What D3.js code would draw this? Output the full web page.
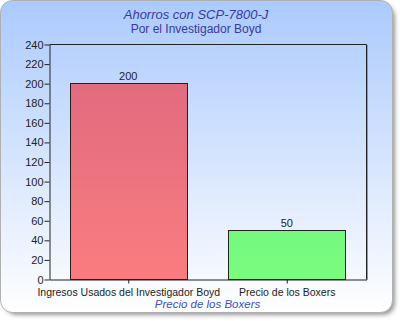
<!DOCTYPE html>
<html lang="es">
<head>
<meta charset="UTF-8">
<script src="https://cdn.jsdelivr.net/npm/d3@7"></script>
<style>
    body { margin: 0; background: white; }
    svg { display: block; font-family: "Liberation Sans", Arial, sans-serif; }
</style>
</head>
<body>
<script>
    // ---- data ----
    const categories = ["Ingresos Usados del Investigador Boyd", "Precio de los Boxers"];
    const values = [200, 50];
    const barColors = ["rgba(255,0,0,0.5)", "rgba(0,255,0,0.5)"];
    const yTicks = [0, 20, 40, 60, 80, 100, 120, 140, 160, 180, 200, 220, 240];
    const title = "Ahorros con SCP-7800-J";
    const subtitle = "Por el Investigador Boyd";
    const xTitle = "Precio de los Boxers";

    const W = 400, H = 321;
    const plot = { left: 49, right: 366, top: 44, bottom: 279 };

    const svg = d3.select("body").append("svg")
        .attr("width", W).attr("height", H);

    const defs = svg.append("defs");
    const grad = defs.append("linearGradient")
        .attr("id", "bg").attr("x1", 0).attr("y1", 0).attr("x2", 0).attr("y2", 1);
    grad.append("stop").attr("offset", "0%").attr("stop-color", "#abcafd");
    grad.append("stop").attr("offset", "100%").attr("stop-color", "#ffffff");

    const blur = defs.append("filter").attr("id", "shadow")
        .attr("x", "-5%").attr("y", "-5%").attr("width", "115%").attr("height", "115%");
    blur.append("feGaussianBlur").attr("stdDeviation", 2);

    // card shadow + card
    svg.append("rect")
        .attr("x", 5).attr("y", 5).attr("width", 390).attr("height", 310)
        .attr("rx", 12).attr("fill", "#999").attr("filter", "url(#shadow)");
    svg.append("rect")
        .attr("x", 0.5).attr("y", 0.5).attr("width", 392).attr("height", 312)
        .attr("rx", 12).attr("fill", "url(#bg)").attr("stroke", "#b0b0b0");

    // titles
    svg.append("text").attr("x", 196).attr("y", 19)
        .attr("text-anchor", "middle").attr("font-size", 13).attr("font-style", "italic")
        .attr("fill", "#3a3a9a").text(title);
    svg.append("text").attr("x", 196).attr("y", 33)
        .attr("text-anchor", "middle").attr("font-size", 12)
        .attr("fill", "#3a3a9a").text(subtitle);

    // scales
    const x = d3.scaleBand().domain(categories)
        .range([plot.left, plot.right]).paddingInner(0.26).paddingOuter(0.13);
    const y = d3.scaleLinear().domain([0, 240]).range([plot.bottom, plot.top]);

    // bars
    svg.selectAll(".bar").data(values).enter().append("rect")
        .attr("class", "bar")
        .attr("x", (d, i) => Math.round(x(categories[i])) + 0.5)
        .attr("y", d => Math.round(y(d)) + 0.5)
        .attr("width", Math.round(x.bandwidth()))
        .attr("height", d => Math.round(y(0)) - Math.round(y(d)))
        .attr("fill", (d, i) => barColors[i])
        .attr("stroke", "#222").attr("stroke-width", 1);

    // value labels
    svg.selectAll(".val").data(values).enter().append("text")
        .attr("x", (d, i) => x(categories[i]) + x.bandwidth() / 2)
        .attr("y", d => y(d) - 3)
        .attr("text-anchor", "middle").attr("font-size", 11).attr("fill", "#222")
        .text(d => d);

    // frame (top + right) with small shadow on the right
    svg.append("line").attr("x1", plot.right + 1.5).attr("x2", plot.right + 1.5)
        .attr("y1", plot.top + 1).attr("y2", plot.bottom + 1)
        .attr("stroke", "#8a9ab0").attr("stroke-width", 1);
    svg.append("path")
        .attr("d", `M${plot.left + 0.5},${plot.top + 0.5}H${plot.right + 0.5}V${plot.bottom + 0.5}`)
        .attr("fill", "none").attr("stroke", "#222");

    // y axis
    const yAxis = svg.append("g")
        .attr("transform", `translate(${plot.left + 0.5},0.5)`)
        .call(d3.axisLeft(y).tickValues(yTicks).tickSize(5).tickSizeOuter(0));
    yAxis.selectAll("text").attr("font-size", 11).attr("fill", "#222")
        .attr("font-family", "Liberation Sans, Arial, sans-serif").attr("x", -6);
    yAxis.selectAll("line, path").attr("stroke", "#222");

    // x axis
    const xAxis = svg.append("g")
        .attr("transform", `translate(0.5,${plot.bottom + 0.5})`)
        .call(d3.axisBottom(x).tickSize(4).tickSizeOuter(0));
    xAxis.selectAll("text").attr("font-size", 10.5).attr("fill", "#222")
        .attr("font-family", "Liberation Sans, Arial, sans-serif").attr("dy", "0.9em");
    xAxis.selectAll("line, path").attr("stroke", "#222");

    // x title
    svg.append("text").attr("x", (plot.left + plot.right) / 2).attr("y", 308)
        .attr("text-anchor", "middle").attr("font-size", 11.5).attr("font-style", "italic")
        .attr("fill", "#3d4fc0").text(xTitle);
</script>
</body>
</html>
